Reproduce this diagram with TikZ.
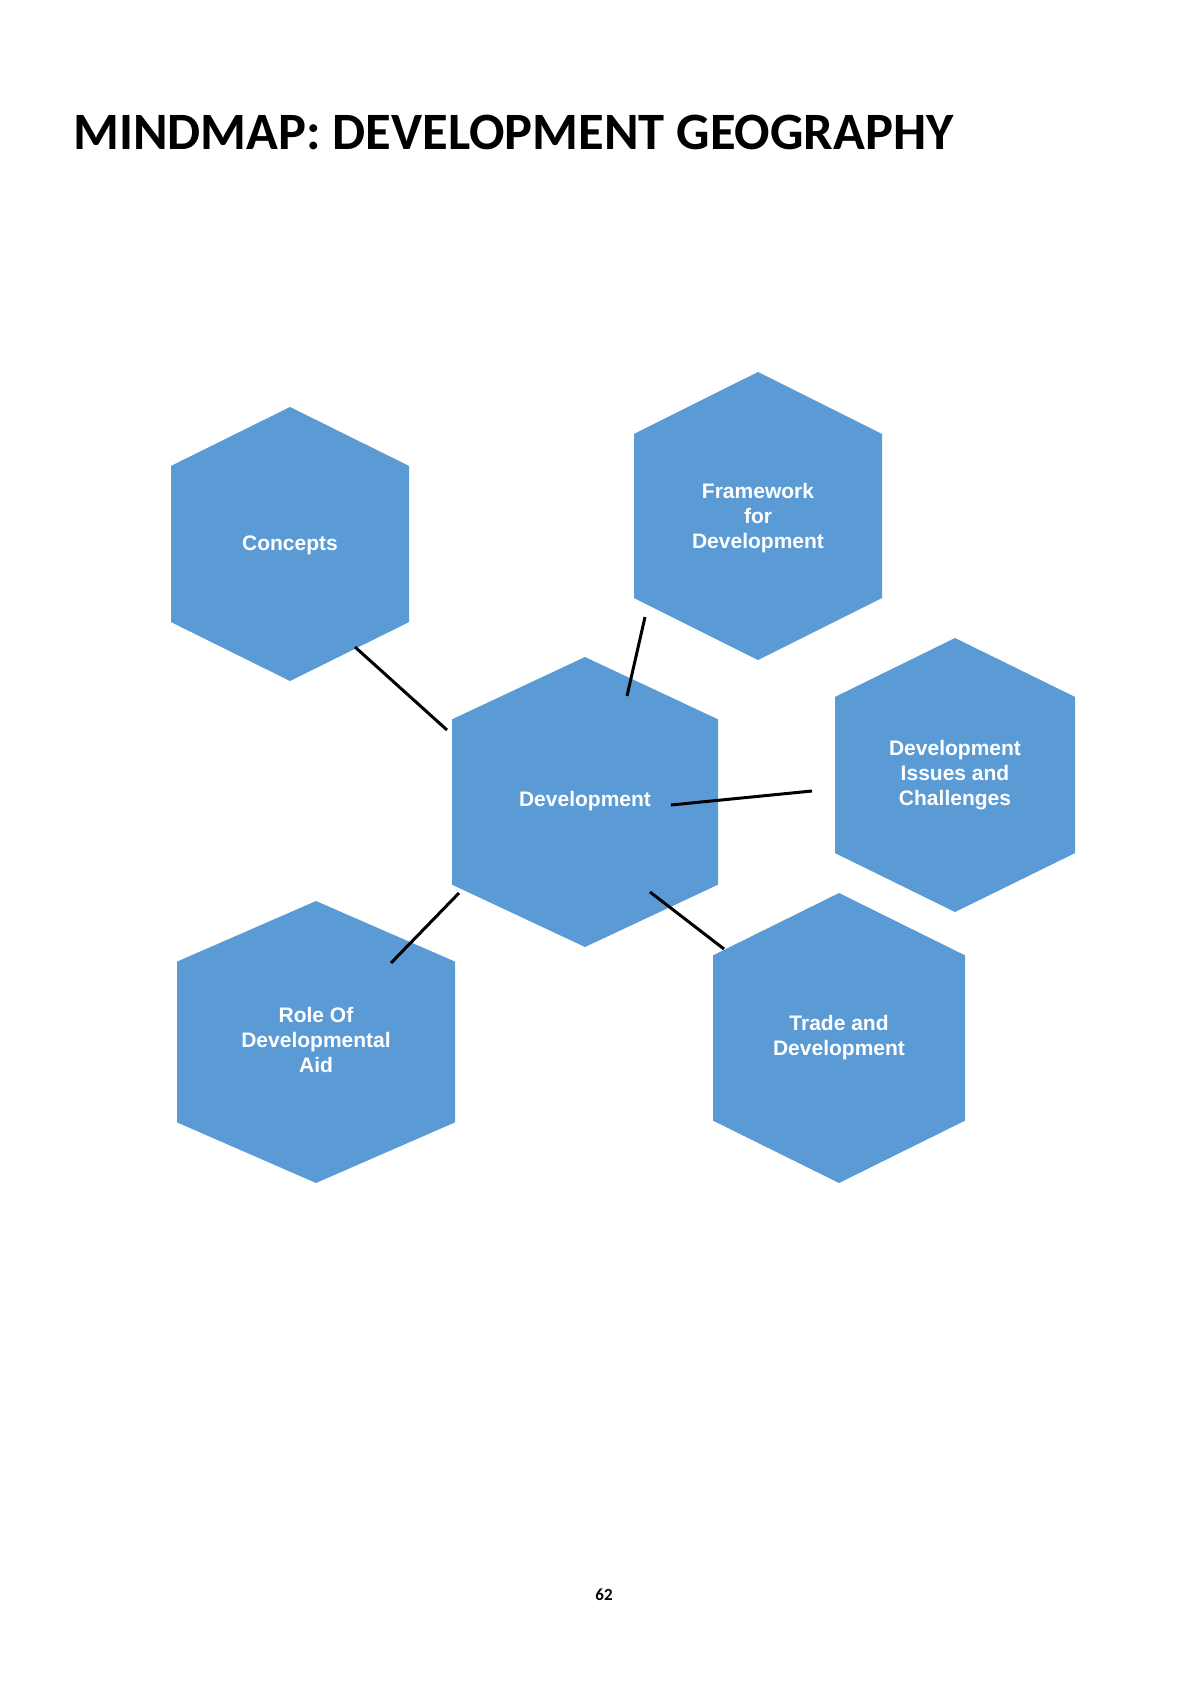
\documentclass[tikz,border=0pt]{standalone}
\usepackage{fontspec}
\setmainfont{Liberation Sans}
\newfontfamily\titlefont{Carlito}
\definecolor{hexblue}{HTML}{5B9BD5}
\begin{document}
\begin{tikzpicture}[x=1pt,y=-1pt,
  hexlabel/.style={text=white,align=center,font=\fontsize{21}{25}\selectfont\bfseries},
  link/.style={line width=3pt,black}]
\useasboundingbox (0,0) rectangle (1200,1696);
\newcommand{\hexa}[5]{% name, cx, cy, halfwidth, halfheight
  \fill[hexblue] (#2,#3-#5) -- (#2+#4,#3-0.57*#5) -- (#2+#4,#3+0.57*#5) -- (#2,#3+#5)
     -- (#2-#4,#3+0.57*#5) -- (#2-#4,#3-0.57*#5) -- cycle;
  \coordinate (#1) at (#2,#3);}
\hexa{conc}{290}{544}{119}{137}
\hexa{fram}{758}{516}{124}{144}
\hexa{dev}{585}{802}{133}{145}
\hexa{iss}{955}{775}{120}{137}
\hexa{role}{316}{1042}{139}{141}
\hexa{trade}{839}{1038}{126}{145}
\node[hexlabel] (tconc) at (290,545) {Concepts};
\node[hexlabel] (tfram) at (758,518) {Framework\\for\\Development};
\node[hexlabel] (tdev) at (585,801) {Development};
\node[hexlabel] (tiss) at (955,775) {Development\\Issues and\\Challenges};
\node[hexlabel] (trole) at (316,1040) {Role Of\\Developmental\\Aid};
\node[hexlabel] (ttrade) at (839,1038) {Trade and\\Development};
\coordinate (a1) at (355,647); \coordinate (a2) at (447,730);
\coordinate (b1) at (645,617); \coordinate (b2) at (627,696);
\coordinate (c1) at (671,805); \coordinate (c2) at (812,791);
\coordinate (d1) at (459,893); \coordinate (d2) at (391,963);
\coordinate (e1) at (650,892); \coordinate (e2) at (724,949);
\draw[link] (a1) -- (a2);
\draw[link] (b1) -- (b2);
\draw[link] (c1) -- (c2);
\draw[link] (d1) -- (d2);
\draw[link] (e1) -- (e2);
\node[anchor=base west,inner sep=0pt,font=\titlefont\fontsize{52.5}{60}\selectfont\bfseries] (title) at (73,150) {MINDMAP: DEVELOPMENT GEOGRAPHY};
\node[anchor=base,inner sep=0pt,font=\titlefont\fontsize{17}{20}\selectfont\bfseries] (page) at (604,1600) {62};
\end{tikzpicture}
\end{document}
